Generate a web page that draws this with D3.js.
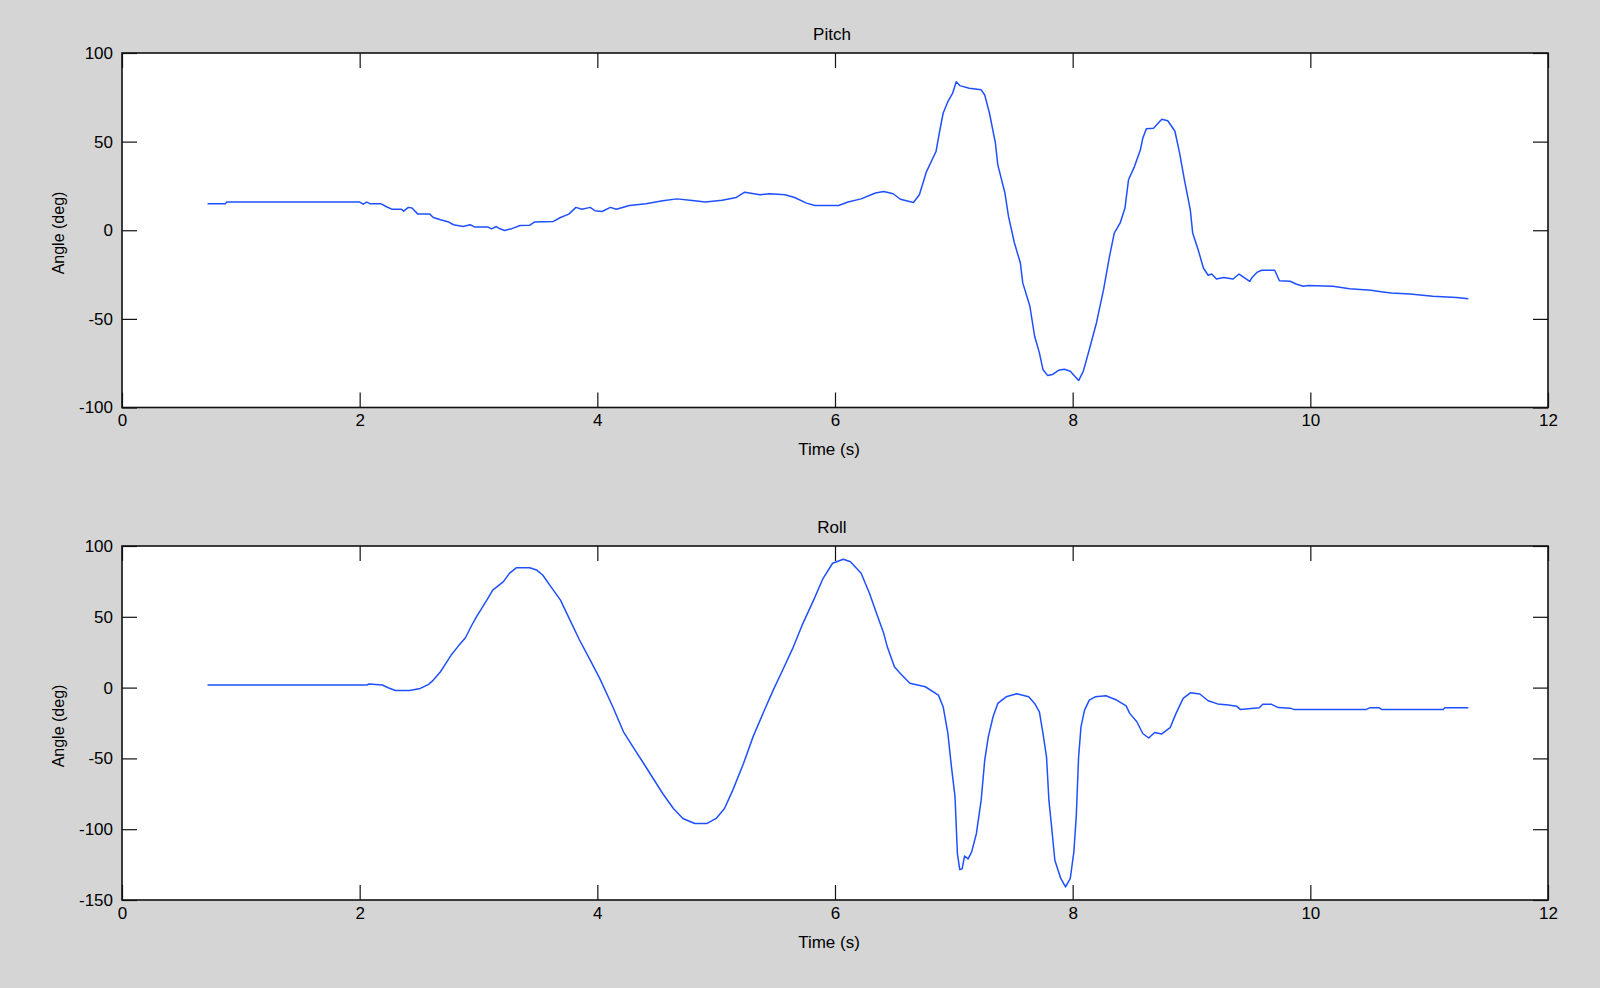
<!DOCTYPE html>
<html>
<head>
<meta charset="utf-8">
<script src="https://cdn.jsdelivr.net/npm/d3@7"></script>
<style>
  html, body { margin: 0; padding: 0; background: #d5d5d5; }
  svg { display: block; }
  text { font-family: "Liberation Sans", Arial, sans-serif; fill: #000; }
</style>
</head>
<body>
<svg id="chart" width="1600" height="988"></svg>
<script>
const xTicks = [0, 2, 4, 6, 8, 10, 12];
const pitchTicks = [-100, -50, 0, 50, 100];
const rollTicks = [-150, -100, -50, 0, 50, 100];

const pitchT = [0.72,0.87,0.88,2.00,2.03,2.06,2.09,2.18,2.23,2.27,2.35,2.37,2.41,2.44,2.49,2.59,2.62,2.68,2.75,2.79,2.87,2.93,2.97,3.08,3.11,3.15,3.18,3.22,3.28,3.35,3.43,3.47,3.63,3.69,3.76,3.82,3.87,3.94,3.98,4.04,4.11,4.16,4.27,4.41,4.55,4.67,4.78,4.91,5.05,5.17,5.24,5.37,5.45,5.58,5.66,5.76,5.83,6.03,6.11,6.22,6.34,6.41,6.49,6.55,6.66,6.71,6.77,6.85,6.88,6.91,6.95,6.99,7.02,7.05,7.13,7.23,7.26,7.30,7.35,7.37,7.43,7.46,7.51,7.56,7.58,7.64,7.68,7.72,7.75,7.79,7.83,7.88,7.93,7.98,8.05,8.09,8.14,8.20,8.26,8.31,8.35,8.40,8.44,8.47,8.52,8.57,8.59,8.62,8.68,8.75,8.80,8.86,8.90,8.94,8.99,9.01,9.06,9.10,9.14,9.17,9.21,9.27,9.35,9.40,9.45,9.49,9.51,9.55,9.59,9.70,9.74,9.83,9.88,9.94,9.98,10.19,10.33,10.51,10.61,10.68,10.84,11.03,11.23,11.33];
const pitchV = [14.9,14.9,15.9,15.9,14.7,15.9,14.9,14.9,13.1,11.9,11.9,10.8,12.9,12.5,9.1,9.1,7.2,5.9,4.6,3.1,2.1,3.1,1.8,1.8,0.8,2.1,0.8,-0.1,0.9,2.7,2.8,4.6,5.0,7.2,9.1,12.9,11.9,12.9,11.0,10.6,12.9,11.9,14.0,14.9,16.6,17.7,16.9,15.9,16.9,18.5,21.5,20.0,20.6,20.0,18.5,15.3,14.0,14.0,15.9,17.7,21.0,21.9,20.6,17.5,15.7,20.0,33.1,44.4,55.7,66.0,72.6,77.3,83.8,81.6,80.1,79.2,76.3,66.0,49.1,36.9,21.0,7.8,-7.2,-18.5,-29.7,-42.9,-59.8,-69.2,-78.6,-82.0,-81.4,-79.0,-78.4,-79.5,-84.8,-79.5,-67.3,-52.3,-33.5,-14.8,-1.6,4.1,12.5,28.5,35.9,45.4,51.9,57.2,57.6,62.6,61.8,56.0,43.5,28.5,11.5,-1.6,-11.9,-21.3,-25.4,-24.7,-27.5,-26.6,-27.5,-24.7,-27.0,-28.8,-26.6,-23.8,-22.6,-22.6,-28.5,-28.8,-30.3,-31.6,-31.2,-31.6,-33.0,-33.9,-34.8,-35.4,-35.9,-37.3,-37.9,-38.6];

const rollT = [0.72,2.06,2.08,2.19,2.24,2.30,2.42,2.51,2.58,2.62,2.68,2.72,2.77,2.83,2.89,2.94,2.98,3.07,3.12,3.21,3.26,3.32,3.43,3.49,3.54,3.60,3.69,3.77,3.85,3.94,4.02,4.13,4.22,4.30,4.39,4.47,4.55,4.64,4.72,4.82,4.92,5.00,5.07,5.14,5.23,5.31,5.40,5.48,5.56,5.65,5.73,5.82,5.90,5.98,6.07,6.13,6.22,6.29,6.35,6.41,6.44,6.50,6.55,6.63,6.76,6.87,6.91,6.95,6.98,7.01,7.03,7.05,7.07,7.09,7.12,7.15,7.19,7.23,7.26,7.29,7.33,7.37,7.44,7.53,7.63,7.68,7.72,7.75,7.78,7.80,7.82,7.85,7.90,7.94,7.98,8.01,8.03,8.05,8.07,8.10,8.14,8.19,8.28,8.37,8.45,8.48,8.54,8.59,8.64,8.69,8.75,8.82,8.87,8.93,8.99,9.07,9.14,9.22,9.31,9.38,9.41,9.57,9.60,9.67,9.73,9.83,9.86,10.47,10.50,10.58,10.60,11.12,11.13,11.33];
const rollV = [1.8,1.8,2.5,1.8,-0.1,-2.0,-2.0,-0.6,2.3,5.3,11.2,16.4,23.0,29.3,35.2,43.5,49.6,61.8,68.9,74.8,80.7,84.7,84.7,83.0,79.5,72.4,61.8,47.7,33.6,19.4,6.5,-13.5,-31.2,-41.8,-53.6,-64.2,-74.8,-85.4,-92.4,-96.0,-96.0,-92.4,-85.4,-72.4,-53.6,-34.8,-17.1,-1.8,12.4,28.8,45.4,61.8,77.2,87.8,90.6,88.9,80.7,66.6,52.4,38.3,28.8,14.7,10.0,3.0,0.6,-5.3,-13.5,-32.4,-56.0,-77.2,-117.2,-128.5,-128.0,-119.0,-121.0,-116.0,-103.0,-79.5,-51.2,-34.8,-20.6,-11.2,-6.5,-4.4,-6.5,-11.2,-17.1,-32.4,-48.9,-79.5,-96.0,-121.9,-134.8,-140.8,-134.8,-116.0,-91.3,-48.9,-27.7,-15.9,-8.8,-6.5,-5.8,-8.8,-12.9,-18.2,-24.1,-32.4,-35.6,-31.7,-32.7,-28.3,-18.2,-7.6,-3.7,-4.5,-9.3,-11.5,-12.3,-13.1,-15.4,-14.3,-11.7,-11.7,-14.1,-14.5,-15.4,-15.4,-14.3,-14.3,-15.4,-15.4,-14.3,-14.3];

const svg = d3.select("#chart");
const left = 122, right = 1548;

function panel(cfg) {
  const x = d3.scaleLinear().domain([0, 12]).range([left, right]);
  const y = d3.scaleLinear().domain(cfg.yDomain).range([cfg.bottom, cfg.top]);
  const g = svg.append("g");

  g.append("rect")
    .attr("x", left).attr("y", cfg.top)
    .attr("width", right - left).attr("height", cfg.bottom - cfg.top)
    .attr("fill", "#fff");

  const line = d3.line().x((d, i) => x(cfg.t[i])).y(d => y(d));
  g.append("path")
    .datum(cfg.v)
    .attr("d", line)
    .attr("fill", "none")
    .attr("stroke", "#1f50ff")
    .attr("stroke-width", 1.5)
    .attr("stroke-linejoin", "round");

  const styleAxis = sel => {
    sel.select(".domain").remove();
    sel.selectAll(".tick line").attr("stroke", "#111").attr("stroke-width", 1.2);
    sel.selectAll("text").style("font-size", "17px").attr("fill", "#000");
  };

  g.append("g").attr("transform", `translate(0,${cfg.bottom})`)
    .call(d3.axisBottom(x).tickValues(xTicks).tickSizeInner(-15).tickSizeOuter(0).tickPadding(cfg.xPad).tickFormat(d3.format("d")))
    .call(styleAxis);
  g.append("g").attr("transform", `translate(0,${cfg.top})`)
    .call(d3.axisTop(x).tickValues(xTicks).tickSizeInner(-15).tickSizeOuter(0).tickFormat(""))
    .call(styleAxis);
  g.append("g").attr("transform", `translate(${left},0)`)
    .call(d3.axisLeft(y).tickValues(cfg.yTicks).tickSizeInner(-15).tickSizeOuter(0).tickPadding(9).tickFormat(d => String(d).replace("\u2212", "-")))
    .call(styleAxis);
  g.append("g").attr("transform", `translate(${right},0)`)
    .call(d3.axisRight(y).tickValues(cfg.yTicks).tickSizeInner(-15).tickSizeOuter(0).tickFormat(""))
    .call(styleAxis);

  g.append("rect")
    .attr("x", left).attr("y", cfg.top)
    .attr("width", right - left).attr("height", cfg.bottom - cfg.top)
    .attr("fill", "none").attr("stroke", "#111").attr("stroke-width", 1.6);

  g.append("text").attr("x", 832).attr("y", cfg.titleY)
    .attr("text-anchor", "middle").attr("dominant-baseline", "central")
    .style("font-size", "17px").text(cfg.title);
  g.append("text").attr("x", 829).attr("y", cfg.xLabelY)
    .attr("text-anchor", "middle").attr("dominant-baseline", "central")
    .style("font-size", "17px").text("Time (s)");
  g.append("text")
    .attr("transform", `translate(58,${cfg.yLabelY}) rotate(-90)`)
    .attr("text-anchor", "middle").attr("dominant-baseline", "central")
    .style("font-size", "16px").text("Angle (deg)");
}

panel({ title: "Pitch", t: pitchT, v: pitchV, yDomain: [-100, 100], yTicks: pitchTicks,
        top: 53, bottom: 407.5, xPad: 6, titleY: 34, xLabelY: 449, yLabelY: 233 });
panel({ title: "Roll", t: rollT, v: rollV, yDomain: [-150, 100], yTicks: rollTicks,
        top: 546, bottom: 900, xPad: 7, titleY: 527, xLabelY: 942, yLabelY: 726 });
</script>
</body>
</html>
